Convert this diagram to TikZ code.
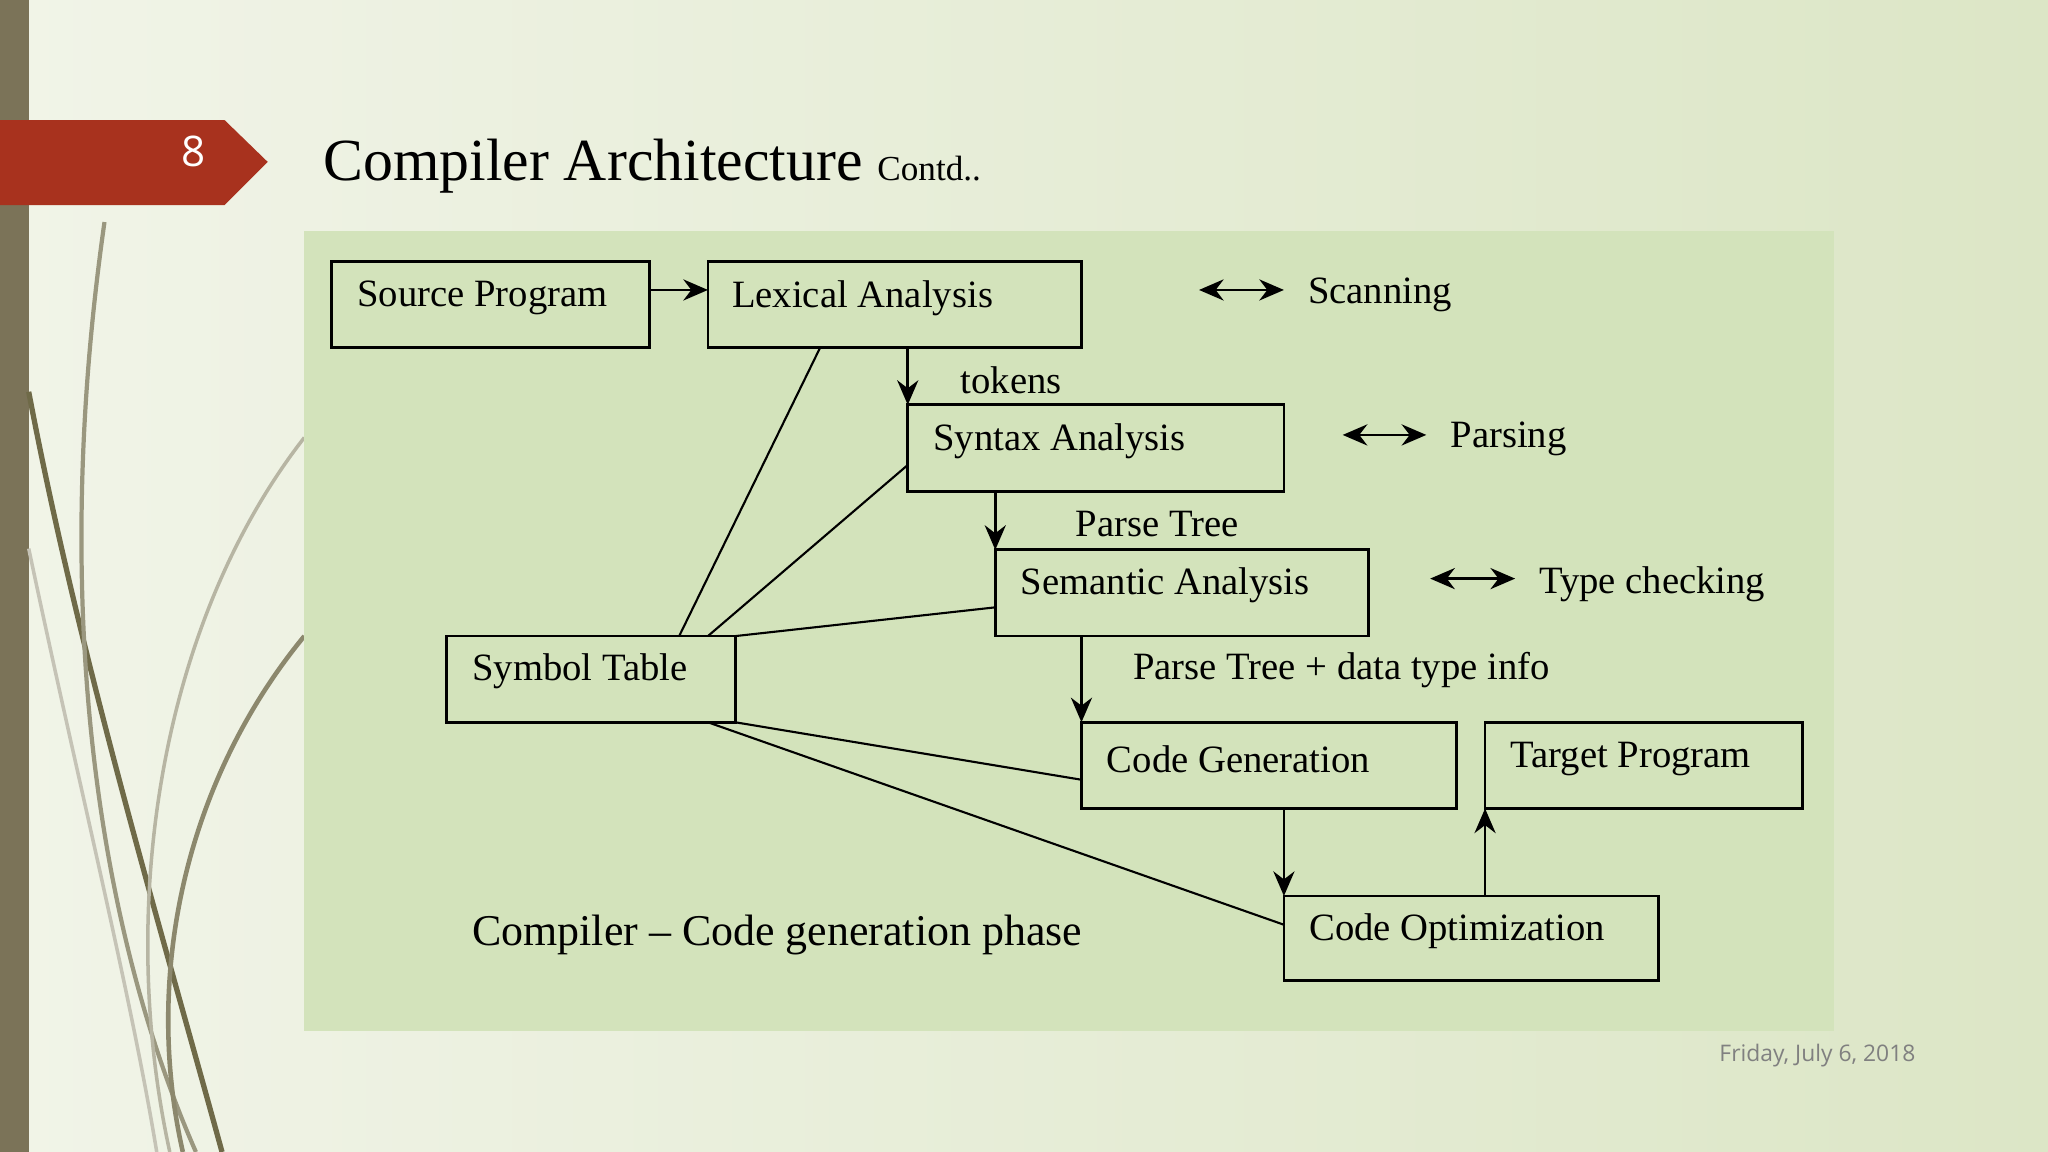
\documentclass[tikz,border=0pt]{standalone}
\usepackage{fontspec}
\setmainfont{Liberation Serif}
\newfontfamily\sansf{Open Sans}
\usetikzlibrary{arrows.meta}
\definecolor{bgA}{HTML}{F1F4E8}
\definecolor{bgB}{HTML}{DCE6C6}
\definecolor{panel}{HTML}{D3E3BB}
\definecolor{banner}{HTML}{A8321E}
\definecolor{strip}{HTML}{7B7358}
\definecolor{curve}{HTML}{6F6A48}
\begin{document}
\begin{tikzpicture}[x=0.0130612cm,y=-0.0130612cm,
  box/.style={draw=black,line width=0.8pt,fill=none},
  lbl/.style={anchor=west,font=\fontsize{11}{13}\selectfont,inner sep=0},
  arr/.style={-{Stealth[length=7pt,width=6pt]},line width=0.8pt},
  dbl/.style={{Stealth[length=7pt,width=6pt]}-{Stealth[length=7pt,width=6pt]},line width=0.8pt},
  ln/.style={line width=0.6pt}]
\useasboundingbox (0,0) rectangle (1568,882);
\shade[left color=bgA,right color=bgB] (0,0) rectangle (1568,882);
\fill[strip] (0,0) rectangle (22,882);
% decorative curves
\draw[curve,line width=1.5pt] (22,300) .. controls (60,500) and (120,700) .. (170,882);
\draw[curve!70,line width=1.2pt] (80,170) .. controls (40,450) and (70,700) .. (150,882);
\draw[curve!50,line width=1pt] (233,335) .. controls (120,480) and (90,700) .. (130,882);
\draw[curve!80,line width=1.3pt] (233,487) .. controls (140,600) and (110,750) .. (140,882);
\draw[curve!40,line width=1pt] (22,420) .. controls (60,600) and (100,760) .. (120,882);
\fill[banner] (0,92) -- (172,92) -- (205,124) -- (172,157) -- (0,157) -- cycle;
\node[white,font=\sansf\fontsize{12}{14}\selectfont] (num) at (148,116) {8};
\node[anchor=base west,inner sep=0] (title) at (247,138) {\fontsize{17}{20}\selectfont Compiler Architecture \fontsize{10}{12}\selectfont Contd..};
\fill[panel] (233,177) rectangle (1404,789);
\node[anchor=base east,inner sep=0,gray,font=\sansf\fontsize{6.5}{8}\selectfont] (date) at (1467,813) {Friday, July 6, 2018};

\draw[box] (254,200) rectangle (497,266); \coordinate (sp) at (254,200);
\draw[box] (542,200) rectangle (828,266);
\draw[box] (695,310) rectangle (983,376);
\draw[box] (762,421) rectangle (1048,487);
\draw[box] (342,487) rectangle (563,553);
\draw[box] (828,553) rectangle (1115,619);
\draw[box] (1137,553) rectangle (1380,619);
\draw[box] (983,686) rectangle (1270,751);
\node[lbl] (t1) at (273,228) {Source Program};
\node[lbl] (t2) at (560,228) {Lexical Analysis};
\node[lbl] (t3) at (714,338) {Syntax Analysis};
\node[lbl] (t4) at (781,448) {Semantic Analysis};
\node[lbl] (t5) at (361,514) {Symbol Table};
\node[lbl] (t6) at (847,581) {Code Generation};
\node[lbl] (t7) at (1156,581) {Target Program};
\node[lbl] (t8) at (1002,713) {Code Optimization};
\node[lbl] (l1) at (735,291) {tokens};
\node[lbl] (l2) at (823,401) {Parse Tree};
\node[lbl] (l3) at (867,513) {Parse Tree + data type info};
\node[lbl] (l4) at (1001,226) {Scanning};
\node[lbl] (l5) at (1110,336) {Parsing};
\node[lbl] (l6) at (1178,447) {Type checking};
\node[lbl,font=\fontsize{12.5}{15}\selectfont] (cap) at (361,716) {Compiler -- Code generation phase};

\coordinate (a1) at (497,222); \coordinate (a2) at (542,222);
\coordinate (b1) at (695,266); \coordinate (b2) at (695,310);
\coordinate (c1) at (762,376); \coordinate (c2) at (762,421);
\coordinate (d1) at (828,487); \coordinate (d2) at (828,553);
\coordinate (e1) at (983,619); \coordinate (e2) at (983,686);
\coordinate (f1) at (1137,686); \coordinate (f2) at (1137,619);
\draw[arr] (a1) -- (a2);
\draw[arr] (b1) -- (b2);
\draw[arr] (c1) -- (c2);
\draw[arr] (d1) -- (d2);
\draw[arr] (e1) -- (e2);
\draw[arr] (f1) -- (f2);
\coordinate (s1) at (918,222); \coordinate (s2) at (983,222);
\coordinate (p1) at (1028,333); \coordinate (p2) at (1092,333);
\coordinate (q1) at (1095,443); \coordinate (q2) at (1160,443);
\draw[dbl] (s1) -- (s2);
\draw[dbl] (p1) -- (p2);
\draw[dbl] (q1) -- (q2);
\coordinate (g1) at (520,487); \coordinate (g2) at (628,266);
\coordinate (h1) at (542,487); \coordinate (h2) at (695,356);
\coordinate (i1) at (563,487); \coordinate (i2) at (762,465);
\coordinate (j1) at (563,553); \coordinate (j2) at (828,597);
\coordinate (k1) at (542,553); \coordinate (k2) at (983,708);
\draw[ln] (g1) -- (g2);
\draw[ln] (h1) -- (h2);
\draw[ln] (i1) -- (i2);
\draw[ln] (j1) -- (j2);
\draw[ln] (k1) -- (k2);
\end{tikzpicture}
\end{document}
